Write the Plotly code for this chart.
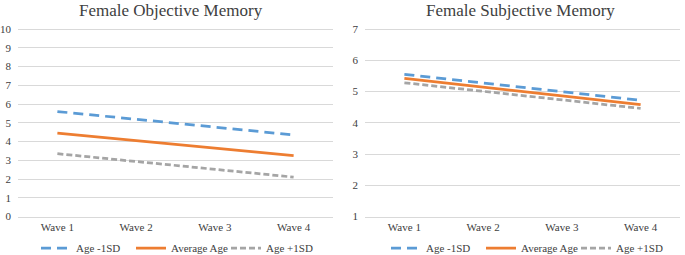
import plotly.graph_objects as go

waves = ["Wave 1", "Wave 2", "Wave 3", "Wave 4"]
series_names = ["Age -1SD", "Average Age", "Age +1SD"]
obj_minus = [5.60, 5.18, 4.77, 4.35]
obj_avg = [4.45, 4.05, 3.65, 3.25]
obj_plus = [3.35, 2.93, 2.52, 2.10]
subj_minus = [5.55, 5.27, 5.00, 4.72]
subj_avg = [5.42, 5.14, 4.86, 4.58]
subj_plus = [5.28, 5.01, 4.73, 4.46]
titles = ["Female Objective Memory", "Female Subjective Memory"]

colors = ["#5B9BD5", "#ED7D31", "#A5A5A5"]
dashes = ["10px,6px", "solid", "6px,3px"]
FONT = "Liberation Serif, Times New Roman, DejaVu Serif, serif"
W, H = 685, 255

fig = go.Figure()
for vals, name, c, d in zip([obj_minus, obj_avg, obj_plus], series_names, colors, dashes):
    fig.add_trace(go.Scatter(x=waves, y=vals, name=name, mode="lines",
                             line=dict(color=c, width=2.75, dash=d),
                             xaxis="x", yaxis="y", legend="legend"))
for vals, name, c, d in zip([subj_minus, subj_avg, subj_plus], series_names, colors, dashes):
    fig.add_trace(go.Scatter(x=waves, y=vals, name=name, mode="lines",
                             line=dict(color=c, width=2.75, dash=d),
                             xaxis="x2", yaxis="y2", legend="legend2"))

# plot area: bottom gridline at y=216.5 px, top gridline at y=29 px
ydom = [1 - 216.5 / H, 1 - 23.4 / H]
tickfont = dict(family=FONT, size=11, color="#404040")
legfont = dict(family=FONT, size=11, color="#404040")
fig.update_layout(
    width=W, height=H,
    margin=dict(l=0, r=0, t=0, b=0, autoexpand=False),
    paper_bgcolor="white", plot_bgcolor="white",
    font=dict(family=FONT, color="#404040"),
    xaxis=dict(domain=[18 / W, 333 / W], type="category", range=[-0.5, 3.5],
               showgrid=False, showline=True, linecolor="#D9D9D9", linewidth=1,
               ticks="", tickfont=tickfont, automargin=False),
    yaxis=dict(domain=ydom, range=[0, 10.3], tickvals=list(range(0, 11)), showgrid=True,
               gridcolor="#D9D9D9", zeroline=False, showline=False, ticks="",
               ticklabelstandoff=6, tickfont=tickfont, automargin=False),
    xaxis2=dict(domain=[365 / W, 680 / W], type="category", range=[-0.5, 3.5], anchor="y2",
                showgrid=False, showline=True, linecolor="#D9D9D9", linewidth=1,
                ticks="", tickfont=tickfont, automargin=False),
    yaxis2=dict(domain=ydom, range=[1, 7.18], tickvals=list(range(1, 8)), anchor="x2",
                showgrid=True, gridcolor="#D9D9D9", zeroline=False, showline=False, ticks="",
                ticklabelstandoff=6, tickfont=tickfont, automargin=False),
    legend=dict(orientation="h", x=36 / W, xanchor="left", y=1 - 248 / H, yanchor="middle",
                font=legfont, bgcolor="rgba(0,0,0,0)", itemwidth=30,
                entrywidth=50, entrywidthmode="pixels"),
    legend2=dict(orientation="h", x=386 / W, xanchor="left", y=1 - 248 / H, yanchor="middle",
                 font=legfont, bgcolor="rgba(0,0,0,0)", itemwidth=30,
                 entrywidth=50, entrywidthmode="pixels"),
    annotations=[
        dict(text=titles[0], x=171 / W, y=1 - 11 / H, xref="paper", yref="paper",
             xanchor="center", yanchor="middle",
             showarrow=False, font=dict(family=FONT, size=17, color="#404040")),
        dict(text=titles[1], x=520 / W, y=1 - 11 / H, xref="paper", yref="paper",
             xanchor="center", yanchor="middle",
             showarrow=False, font=dict(family=FONT, size=17, color="#404040")),
    ],
)

fig.write_html("out.html", config={"displayModeBar": False},
               post_script="document.body.style.margin='0';")
